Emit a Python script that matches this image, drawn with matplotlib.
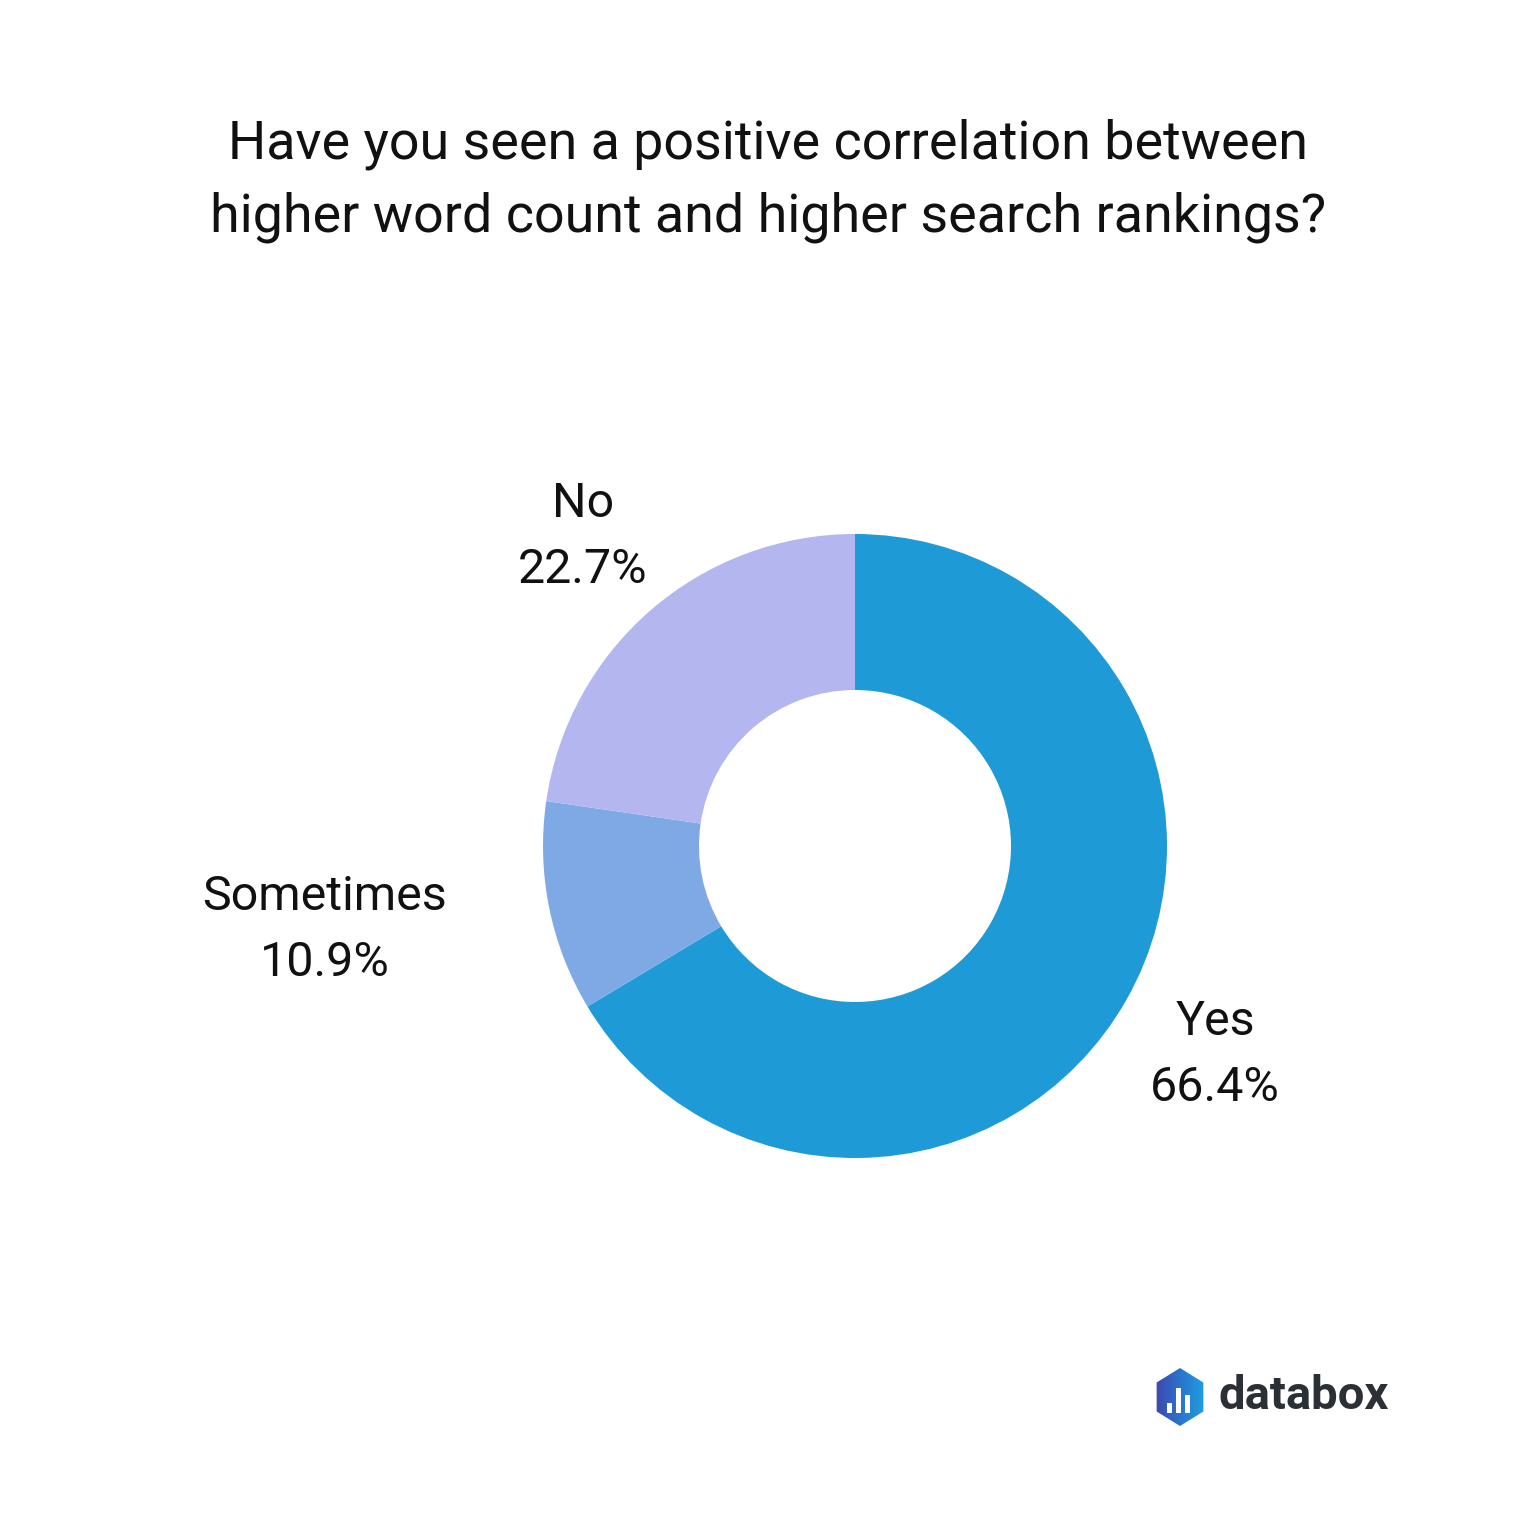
import numpy as np
import matplotlib.pyplot as plt
from matplotlib.patches import Polygon, Rectangle

plt.rcParams['font.family'] = ['Roboto', 'DejaVu Sans']

# data
labels = ['Yes', 'Sometimes', 'No']
shares = [66.4, 10.9, 22.7]
colors = ['#1E9BD7', '#7FA9E5', '#B4B6F0']
title = 'Have you seen a positive correlation between\nhigher word count and higher search rankings?'

W = H = 1536
fig = plt.figure(figsize=(15.36, 15.36), dpi=100)
fig.patch.set_facecolor('white')

# title
fig.text(768 / W, 1 - 181 / H, title, ha='center', va='center',
         fontsize=38.7, color='#111111', linespacing=1.53)

# donut, centre (855, 846) px, outer radius 312 px
cx, cy, r = 855, 846, 312
ax = fig.add_axes([(cx - r) / W, 1 - (cy + r) / H, 2 * r / W, 2 * r / H])
ax.pie(shares, colors=colors, startangle=90, counterclock=False,
       radius=1, wedgeprops=dict(width=0.5, linewidth=0))
ax.set_xlim(-1, 1)
ax.set_ylim(-1, 1)
ax.set_aspect('equal')
ax.axis('off')

# labels, placed in pixel positions
label_pos = {'Yes': (1215, 1055), 'Sometimes': (325, 930), 'No': (583, 537)}
for lab, val in zip(labels, shares):
    x, y = label_pos[lab]
    fig.text(x / W, 1 - y / H, f'{lab}\n{val}%', ha='center', va='center',
             fontsize=34.8, color='#111111', linespacing=1.58)

# databox logo
lax = fig.add_axes([0, 0, 1, 1], zorder=5)
lax.set_xlim(0, W)
lax.set_ylim(H, 0)
lax.axis('off')
hx, hy, hr = 1180, 1397, 29
ang = np.deg2rad(np.arange(6) * 60 + 90)
hexagon = Polygon(np.c_[hx + hr * np.cos(ang) * 0.93, hy + hr * np.sin(ang)],
                  closed=True, facecolor='none', edgecolor='none',
                  joinstyle='round')
lax.add_patch(hexagon)
grad = np.linspace(0, 1, 64)[None, :]
img = lax.imshow(grad, extent=(hx - hr, hx + hr, hy + hr, hy - hr),
                 cmap=plt.matplotlib.colors.LinearSegmentedColormap.from_list(
                     'db', ['#433FA8', '#2A74CC', '#1EA6E0']),
                 aspect='auto', zorder=5)
img.set_clip_path(hexagon)
for bx, bt in [(1169, 1403), (1178, 1388), (1187, 1395)]:
    lax.add_patch(Rectangle((bx - 2.5, bt), 5, 1413 - bt, facecolor='white',
                            edgecolor='none', zorder=6))
lax.text(1218, 1396, 'databox', ha='left', va='center', fontsize=34,
         fontweight='bold', color='#2B2F36', zorder=6)

fig.savefig('out.png', dpi=100, facecolor='white')
